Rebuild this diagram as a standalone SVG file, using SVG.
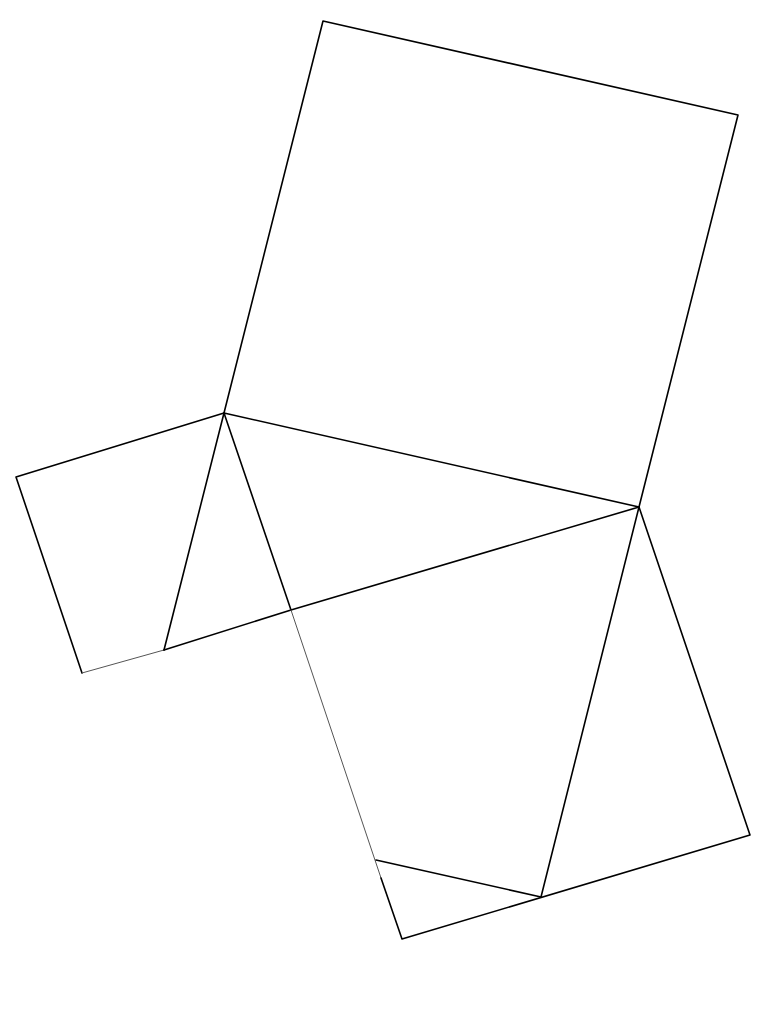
<svg xmlns="http://www.w3.org/2000/svg" width="768" height="1024" viewBox="0 0 768 1024">
<style>
.l{stroke:#000;stroke-width:1.6;fill:none;stroke-linecap:round;stroke-linejoin:round}
.t{stroke:#555;stroke-width:1;fill:none;stroke-linecap:round}
</style>
<rect width="768" height="1024" fill="#fff"/>
<g id="square-top">
<polyline class="l" points="224,413 323,21 738,115 639,507"/>
</g>
<g id="triangle">
<polygon class="l" points="224,413 639,507 291,610"/>
</g>
<g id="square-left">
<polyline class="l" points="224,413 16,477 82,673"/>
<line class="t" x1="82" y1="673" x2="164" y2="650"/>
<line class="l" x1="164" y1="650" x2="291" y2="610"/>
<line class="l" x1="224" y1="413" x2="164" y2="650"/>
</g>
<g id="square-bottom">
<line class="t" x1="291" y1="610" x2="381" y2="878"/>
<polyline class="l" points="381,878 402,939 750,835 639,507"/>
<line class="l" x1="639" y1="507" x2="541" y2="897"/>
<line class="l" x1="376" y1="860" x2="541" y2="897"/>
</g>
</svg>
